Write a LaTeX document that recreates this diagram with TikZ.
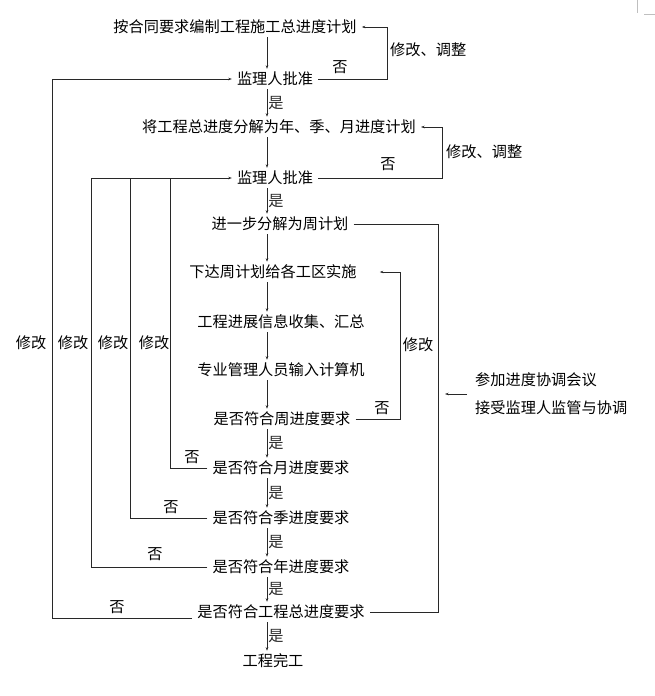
\documentclass[tikz,border=0pt]{standalone}
\usepackage{fontspec}
\setmainfont{Noto Sans CJK SC}
\usetikzlibrary{arrows.meta}
\definecolor{trait}{RGB}{40,40,40}
\definecolor{repere}{gray}{0.75}
\tikzset{
  etape/.style={inner xsep=5pt, inner ysep=3pt, font=\fontsize{15.2}{17}\selectfont},
  lbl/.style={inner sep=1pt, font=\fontsize{15.2}{17}\selectfont},
  fl/.style={trait, line width=0.7pt, -{Stealth[length=3.5pt,width=2.5pt]}},
  ln/.style={trait, line width=0.7pt},
}

\begin{document}
\begin{tikzpicture}[x=1pt,y=-1pt]
  \useasboundingbox (0,0) rectangle (655,696);
  % repères de page
  \draw[repere, line width=0.8pt] (637,0) -- (637,13) (644,14) -- (655,14);
  % colonnes
  \coordinate (ax) at (267,0);
  \coordinate (l1) at (52,0);
  \coordinate (l2) at (91,0);
  \coordinate (l3) at (130,0);
  \coordinate (l4) at (170,0);
  \coordinate (r1) at (387,0);
  \coordinate (r2) at (442,0);
  \coordinate (r3) at (400,0);
  \coordinate (r4) at (438,0);
  % étapes
  \node[etape] (n1) at (235,27) {按合同要求编制工程施工总进度计划};
  \node[etape] (n2) at (275,79) {监理人批准};
  \node[etape] (n3) at (279,127) {将工程总进度分解为年、季、月进度计划};
  \node[etape] (n4) at (275,178) {监理人批准};
  \node[etape] (n5) at (280,224) {进一步分解为周计划};
  \node[etape] (n6) at (273,272) {下达周计划给各工区实施};
  \node[etape] (n7) at (281,322) {工程进展信息收集、汇总};
  \node[etape] (n8) at (281,370) {专业管理人员输入计算机};
  \node[etape] (n9) at (282,419) {是否符合周进度要求};
  \node[etape] (n10) at (281,468) {是否符合月进度要求};
  \node[etape] (n11) at (281,518) {是否符合季进度要求};
  \node[etape] (n12) at (281,567) {是否符合年进度要求};
  \node[etape] (n13) at (281,612) {是否符合工程总进度要求};
  \node[etape] (n14) at (273,661) {工程完工};
  \node[lbl, anchor=west, align=left, font=\fontsize{15.2}{28}\selectfont] (meet) at (474,394)
    {参加进度协调会议\\接受监理人监管与协调};
  % flèches principales
  \draw[fl] (n1.south -| ax) -- (n2.north -| ax);
  \draw[fl] (n2.south -| ax) -- (n3.north -| ax) node[lbl, midway, right] {是};
  \draw[fl] (n3.south -| ax) -- (n4.north -| ax);
  \draw[fl] (n4.south -| ax) -- (n5.north -| ax) node[lbl, midway, right] {是};
  \draw[fl] (n5.south -| ax) -- (n6.north -| ax);
  \draw[fl] (n6.south -| ax) -- (n7.north -| ax);
  \draw[fl] (n7.south -| ax) -- (n8.north -| ax);
  \draw[fl] (n8.south -| ax) -- (n9.north -| ax);
  \draw[fl] (n9.south -| ax) -- (n10.north -| ax) node[lbl, midway, right] {是};
  \draw[fl] (n10.south -| ax) -- (n11.north -| ax) node[lbl, midway, right] {是};
  \draw[fl] (n11.south -| ax) -- (n12.north -| ax) node[lbl, midway, right] {是};
  \draw[fl] (n12.south -| ax) -- (n13.north -| ax) node[lbl, midway, right] {是};
  \draw[fl] (n13.south -| ax) -- (n14.north -| ax) node[lbl, midway, right] {是};
  % retours à droite
  \draw[fl] (n2.east) -| (r1 |- n1) -- (n1.east);
  \draw[fl] (n4.east) -| (r2 |- n3) -- (n3.east);
  \draw[fl, shorten >=18pt] (n9.east) -| (r3 |- n6) -- (n6.east);
  \draw[ln] (n5.east) -| (r4 |- n13) -- (n13.east);
  \draw[fl, shorten <=7pt, shorten >=7pt] (meet.west) -- (meet.west -| r4);
  % retours à gauche
  \draw[fl] ([yshift=-6pt]n13.west) -| (l1 |- n2) -- (n2.west);
  \draw[fl] (n12.west) -| (l2 |- n4) -- (n4.west);
  \draw[ln] (n11.west) -| (l3 |- n4);
  \draw[ln] (n10.west) -| (l4 |- n4);
  % libellés
  \node[lbl, anchor=west] (t1) at (389,50) {修改、调整};
  \node[lbl, anchor=west] (t2) at (445,152) {修改、调整};
  \node[lbl] (m1) at (31,343) {修改};
  \node[lbl] (m2) at (73,343) {修改};
  \node[lbl] (m3) at (113,343) {修改};
  \node[lbl] (m4) at (154,343) {修改};
  \node[lbl] (m5) at (418,345) {修改};
  \node[lbl] (f1) at (340,67) {否};
  \node[lbl] (f2) at (388,164) {否};
  \node[lbl] (f3) at (382,408) {否};
  \node[lbl] (f4) at (192,457) {否};
  \node[lbl] (f5) at (171,507) {否};
  \node[lbl] (f6) at (155,554) {否};
  \node[lbl] (f7) at (117,607) {否};
\end{tikzpicture}
\end{document}
